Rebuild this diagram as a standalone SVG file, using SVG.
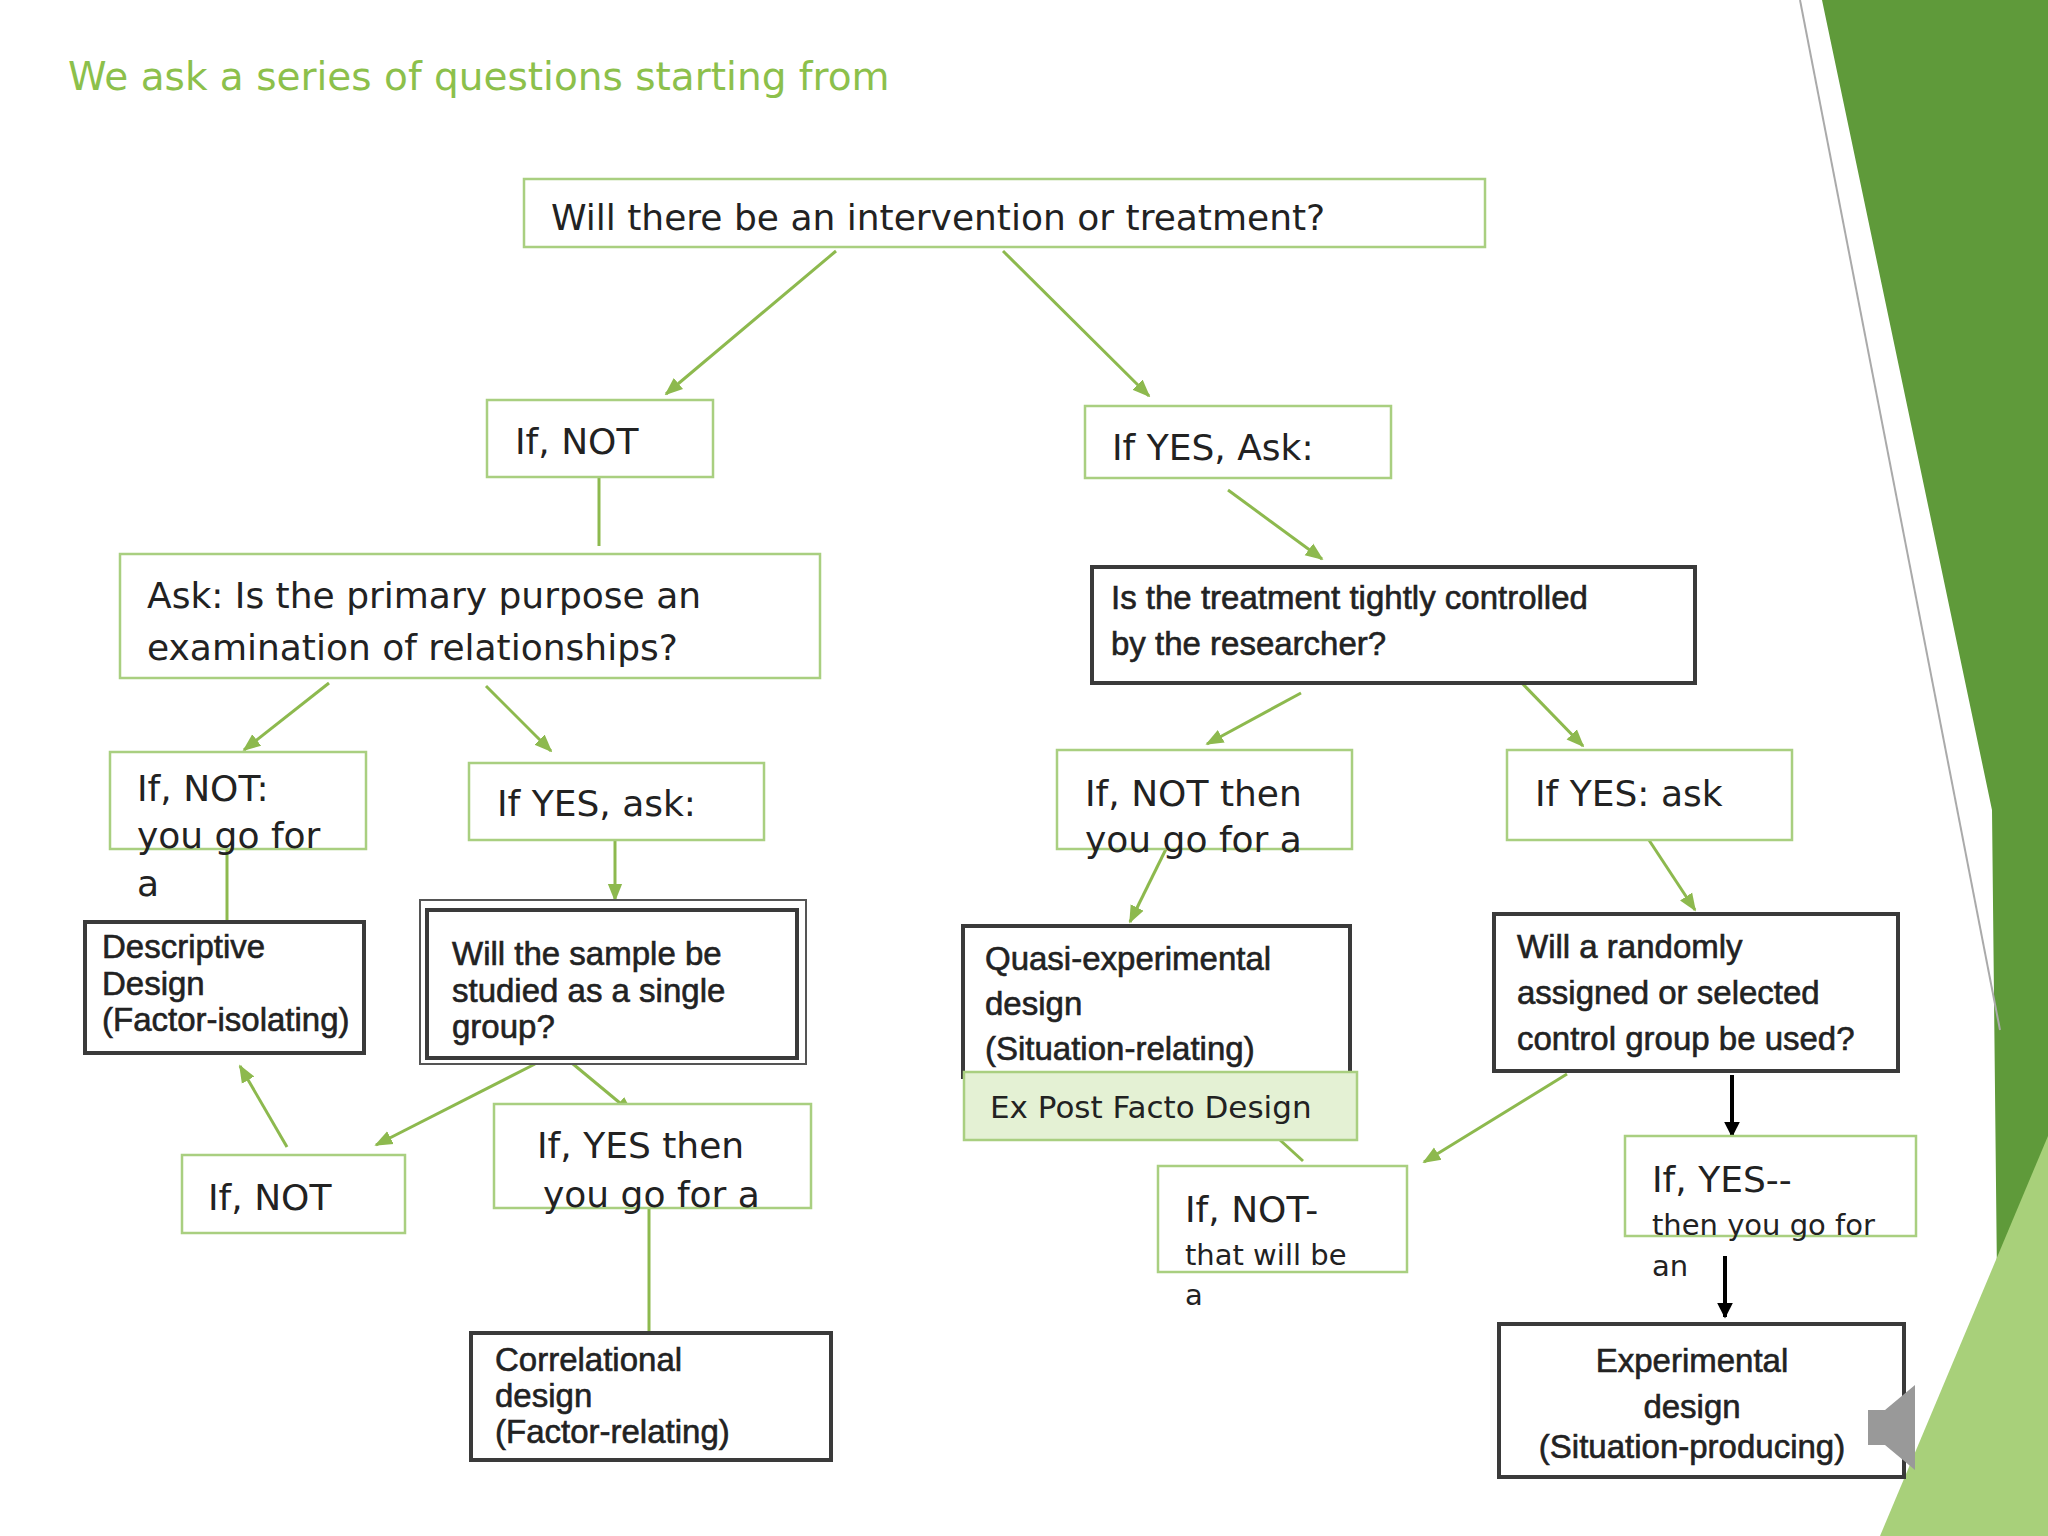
<svg xmlns="http://www.w3.org/2000/svg" width="2048" height="1536" viewBox="0 0 2048 1536">
<style>
.g{fill:#fff;stroke:#a9cf80;stroke-width:2.5}
.d{fill:#fff;stroke:#3a3a3a;stroke-width:4}
.t{font-family:"DejaVu Sans",sans-serif;font-size:36px;fill:#222}
.u{font-family:"DejaVu Sans",sans-serif;font-size:29px;fill:#222}
.s{font-family:"Liberation Sans",Arial,sans-serif;font-size:33px;fill:#222;stroke:#222;stroke-width:0.6}
.c{stroke:#8db94e;stroke-width:3;fill:none}
.k{stroke:#000;stroke-width:4;fill:none}
</style>
<defs>
<marker id="ak" viewBox="0 0 10 10" refX="9" refY="5" markerWidth="16" markerHeight="16" orient="auto" markerUnits="userSpaceOnUse"><path d="M0,0 L10,5 L0,10 z" fill="#000"/></marker>
<marker id="ag2" viewBox="0 0 10 10" refX="9" refY="5" markerWidth="18" markerHeight="18" orient="auto" markerUnits="userSpaceOnUse"><path d="M0,1 L10,5 L0,9 z" fill="#8db94e"/></marker>
</defs>
<rect width="2048" height="1536" fill="#fff"/>
<g id="decor">
<polygon points="1822,0 2048,0 2048,1384 1998,1371 1992,810" fill="#5f9a3a"/>
<polygon points="1880,1536 2048,1136 2048,1536" fill="#a8d07a"/>
<line x1="1800" y1="0" x2="2000" y2="1030" stroke="#aaa" stroke-width="2"/>
</g>
<text x="68" y="90" font-family="DejaVu Sans,sans-serif" font-size="39" fill="#8cc04b">We ask a series of questions starting from</text>
<g id="connectors">
<line class="c" x1="836" y1="251" x2="666" y2="394" marker-end="url(#ag2)"/>
<line class="c" x1="1003" y1="251" x2="1149" y2="396" marker-end="url(#ag2)"/>
<line class="c" x1="599" y1="477" x2="599" y2="546"/>
<line class="c" x1="1228" y1="490" x2="1322" y2="559" marker-end="url(#ag2)"/>
<line class="c" x1="329" y1="683" x2="244" y2="750" marker-end="url(#ag2)"/>
<line class="c" x1="486" y1="686" x2="551" y2="751" marker-end="url(#ag2)"/>
<line class="c" x1="1301" y1="693" x2="1207" y2="744" marker-end="url(#ag2)"/>
<line class="c" x1="1515" y1="676" x2="1583" y2="746" marker-end="url(#ag2)"/>
<line class="c" x1="615" y1="840" x2="615" y2="900" marker-end="url(#ag2)"/>
<line class="c" x1="1643" y1="831" x2="1695" y2="910" marker-end="url(#ag2)"/>
<line class="c" x1="227" y1="849" x2="227" y2="921"/>
<line class="c" x1="1166" y1="849" x2="1130" y2="922" marker-end="url(#ag2)"/>
<line class="c" x1="535" y1="1064" x2="376" y2="1145" marker-end="url(#ag2)"/>
<line class="c" x1="567" y1="1059" x2="632" y2="1113" marker-end="url(#ag2)"/>
<line class="c" x1="287" y1="1147" x2="240" y2="1066" marker-end="url(#ag2)"/>
<line class="c" x1="649" y1="1208" x2="649" y2="1332"/>
<line class="c" x1="1280" y1="1140" x2="1303" y2="1161"/>
<line class="c" x1="1567" y1="1074" x2="1424" y2="1162" marker-end="url(#ag2)"/>
<line class="k" x1="1732" y1="1075" x2="1732" y2="1136" marker-end="url(#ak)"/>
<line class="k" x1="1725" y1="1256" x2="1725" y2="1317" marker-end="url(#ak)"/>
</g>
<g id="n1"><rect class="g" x="524" y="179" width="961" height="68"/><text class="t" x="551" y="230">Will there be an intervention or treatment?</text></g>
<g id="n2"><rect class="g" x="487" y="400" width="226" height="77"/><text class="t" x="515" y="454">If, NOT</text></g>
<g id="n3"><rect class="g" x="1085" y="406" width="306" height="72"/><text class="t" x="1112" y="460">If YES, Ask:</text></g>
<g id="n4"><rect class="g" x="120" y="554" width="700" height="124"/><text class="t" x="147" y="608">Ask: Is the primary purpose an</text><text class="t" x="147" y="660">examination of relationships?</text></g>
<g id="n5"><rect class="d" x="1092" y="567" width="603" height="116"/><text class="s" x="1111" y="609">Is the treatment tightly controlled</text><text class="s" x="1111" y="655">by the researcher?</text></g>
<g id="n6"><rect class="g" x="110" y="752" width="256" height="97"/><text class="t" x="137" y="801">If, NOT:</text><text class="t" x="137" y="848">you go for</text><text class="t" x="137" y="896">a</text></g>
<g id="n7"><rect class="g" x="469" y="763" width="295" height="77"/><text class="t" x="497" y="816">If YES, ask:</text></g>
<g id="n8"><rect class="g" x="1057" y="750" width="295" height="99"/><text class="t" x="1085" y="806">If, NOT then</text><text class="t" x="1085" y="852">you go for a</text></g>
<g id="n9"><rect class="g" x="1507" y="750" width="285" height="90"/><text class="t" x="1535" y="806">If YES: ask</text></g>
<g id="n10"><rect class="d" x="85" y="922" width="279" height="131"/><text class="s" font-size="27" x="102" y="958">Descriptive</text><text class="s" font-size="27" x="102" y="995">Design</text><text class="s" font-size="27" x="102" y="1031">(Factor-isolating)</text></g>
<g id="n11"><rect x="420" y="900" width="386" height="164" fill="#fff" stroke="#555" stroke-width="2"/><rect class="d" x="427" y="910" width="370" height="148"/><text class="s" font-size="30" x="452" y="965">Will the sample be</text><text class="s" font-size="30" x="452" y="1002">studied as a single</text><text class="s" font-size="30" x="452" y="1038">group?</text></g>
<g id="n12"><rect class="d" x="963" y="926" width="387" height="151"/><text class="s" x="985" y="970">Quasi-experimental</text><text class="s" x="985" y="1015">design</text><text class="s" x="985" y="1060">(Situation-relating)</text></g>
<g id="n13"><rect class="d" x="1494" y="914" width="404" height="157"/><text class="s" x="1517" y="958">Will a randomly</text><text class="s" x="1517" y="1004">assigned or selected</text><text class="s" x="1517" y="1050">control group be used?</text></g>
<g id="n14"><rect x="964" y="1072" width="393" height="68" fill="#e4f1d4" stroke="#a9cf80" stroke-width="2.5"/><text font-family="DejaVu Sans,sans-serif" font-size="31" fill="#222" x="990" y="1118">Ex Post Facto Design</text></g>
<g id="n15"><rect class="g" x="182" y="1155" width="223" height="78"/><text class="t" x="208" y="1210">If, NOT</text></g>
<g id="n16"><rect class="g" x="494" y="1104" width="317" height="104"/><text class="t" x="537" y="1158">If, YES then</text><text class="t" x="543" y="1207">you go for a</text></g>
<g id="n17"><rect class="g" x="1158" y="1166" width="249" height="106"/><text class="t" x="1185" y="1222">If, NOT-</text><text class="u" x="1185" y="1265">that will be</text><text class="u" x="1185" y="1305">a</text></g>
<g id="n18"><rect class="g" x="1625" y="1136" width="291" height="100"/><text class="t" x="1652" y="1192">If, YES--</text><text class="u" x="1652" y="1235">then you go for</text><text class="u" x="1652" y="1276">an</text></g>
<g id="n19"><rect class="d" x="471" y="1333" width="360" height="127"/><text class="s" x="495" y="1371">Correlational</text><text class="s" x="495" y="1407">design</text><text class="s" x="495" y="1443">(Factor-relating)</text></g>
<g id="n20"><rect class="d" x="1499" y="1324" width="405" height="153"/><text class="s" x="1692" y="1372" text-anchor="middle">Experimental</text><text class="s" x="1692" y="1418" text-anchor="middle">design</text><text class="s" x="1692" y="1458" text-anchor="middle">(Situation-producing)</text></g>
<g id="speaker"><polygon points="1868,1410 1885,1410 1915,1385 1915,1470 1885,1445 1868,1445" fill="#999"/></g>
</svg>
